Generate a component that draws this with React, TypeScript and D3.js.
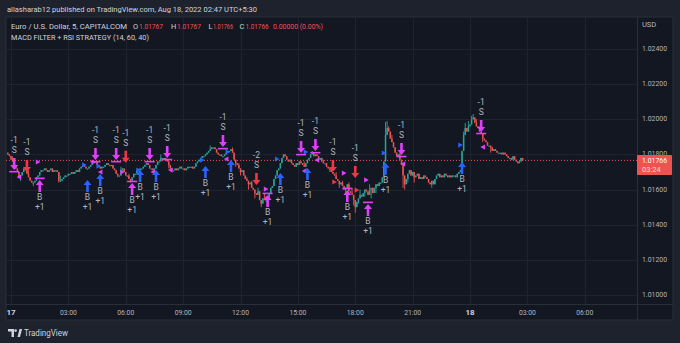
import React from "react";
import * as d3 from "d3";

const W = 680;
const H = 343;

// ---- data ----
const FIRST_OPEN = 1.0181;
const closes = [
  1.0180, 1.0179, 1.0177, 1.0176, 1.0174,
  1.0172, 1.0170, 1.0167, 1.0168, 1.0170,
  1.0172, 1.0171, 1.0169, 1.0167, 1.0165,
  1.0164, 1.0164, 1.0165, 1.0167, 1.0168,
  1.0170, 1.0171, 1.0171, 1.0172, 1.0171,
  1.0170, 1.0171, 1.0172, 1.0170, 1.0171,
  1.0171, 1.0170, 1.0165, 1.0165, 1.0166,
  1.0167, 1.0168, 1.0168, 1.0169, 1.0169,
  1.0170, 1.0169, 1.0170, 1.0171, 1.0170,
  1.0172, 1.0173, 1.0174, 1.0173, 1.0172,
  1.0172, 1.0173, 1.0174, 1.0175, 1.0176,
  1.0176, 1.0174, 1.0173, 1.0172, 1.0173,
  1.0173, 1.0174, 1.0175, 1.0174, 1.0174,
  1.0174, 1.0172, 1.0171, 1.0169, 1.0168,
  1.0168, 1.0171, 1.0172, 1.0170, 1.0168,
  1.0168, 1.0166, 1.0165, 1.0167, 1.0169,
  1.0169, 1.0171, 1.0171, 1.0172, 1.0172,
  1.0173, 1.0174, 1.0175, 1.0174, 1.0172,
  1.0172, 1.0171, 1.0172, 1.0174, 1.0176,
  1.0176, 1.0178, 1.0178, 1.0178, 1.0177,
  1.0176, 1.0174, 1.0172, 1.0171, 1.0171,
  1.0172, 1.0171, 1.0172, 1.0173, 1.0172,
  1.0172, 1.0171, 1.0172, 1.0173, 1.0173,
  1.0173, 1.0172, 1.0173, 1.0175, 1.0176,
  1.0177, 1.0178, 1.0179, 1.0179, 1.0180,
  1.0181, 1.0182, 1.0183, 1.0184, 1.0184,
  1.0183, 1.0181, 1.0180, 1.0180, 1.0179,
  1.0179, 1.0180, 1.0181, 1.0182, 1.0182,
  1.0183, 1.0181, 1.0177, 1.0175, 1.0174,
  1.0172, 1.0170, 1.0171, 1.0168, 1.0166,
  1.0165, 1.0163, 1.0164, 1.0161, 1.0160,
  1.0158, 1.0157, 1.0159, 1.0154, 1.0152,
  1.0155, 1.0154, 1.0156, 1.0155, 1.0158,
  1.0161, 1.0162, 1.0166, 1.0168, 1.0171,
  1.0172, 1.0175, 1.0178, 1.0180, 1.0179,
  1.0177, 1.0176, 1.0177, 1.0175, 1.0174,
  1.0173, 1.0175, 1.0174, 1.0176, 1.0175,
  1.0174, 1.0173, 1.0175, 1.0177, 1.0178,
  1.0180, 1.0181, 1.0179, 1.0180, 1.0179,
  1.0177, 1.0178, 1.0176, 1.0175, 1.0175,
  1.0173, 1.0172, 1.0172, 1.0170, 1.0169,
  1.0168, 1.0166, 1.0165, 1.0163, 1.0164,
  1.0162, 1.0160, 1.0161, 1.0163, 1.0159,
  1.0158, 1.0157, 1.0154, 1.0150, 1.0153,
  1.0155, 1.0157, 1.0156, 1.0158, 1.0160,
  1.0159, 1.0157, 1.0160, 1.0161, 1.0158,
  1.0161, 1.0163, 1.0162, 1.0164, 1.0164,
  1.0167, 1.0176, 1.0191, 1.0195, 1.0193,
  1.0189, 1.0187, 1.0184, 1.0181, 1.0179,
  1.0180, 1.0177, 1.0174, 1.0168, 1.0163,
  1.0166, 1.0169, 1.0171, 1.0168, 1.0170,
  1.0167, 1.0168, 1.0169, 1.0166, 1.0167,
  1.0166, 1.0168, 1.0167, 1.0166, 1.0164,
  1.0163, 1.0165, 1.0163, 1.0166, 1.0168,
  1.0169, 1.0167, 1.0168, 1.0167, 1.0169,
  1.0168, 1.0167, 1.0168, 1.0167, 1.0168,
  1.0168, 1.0167, 1.0169, 1.0170, 1.0171,
  1.0182, 1.0191, 1.0195, 1.0193, 1.0196,
  1.0197, 1.0200, 1.0201, 1.0198, 1.0196,
  1.0195, 1.0193, 1.0192, 1.0189, 1.0188,
  1.0187, 1.0185, 1.0185, 1.0184, 1.0182,
  1.0183, 1.0182, 1.0181, 1.0181, 1.0181,
  1.0180, 1.0181, 1.0180, 1.0179, 1.0178,
  1.0178, 1.0177, 1.0179, 1.0177, 1.0176,
  1.0175, 1.0176, 1.0178, 1.01766,
];
const wickHighs: [number, number][] = [
  [237, 1.01985], [238, 1.0199], [291, 1.0202], [292, 1.0203], [286, 1.0193],
  [145, 1.0175], [150, 1.0167], [153, 1.0165], [157, 1.0161], [161, 1.0158],
  [206, 1.0170], [210, 1.0165], [214, 1.0164], [216, 1.0161], [221, 1.0160], [227, 1.0163],
  [239, 1.0196], [241, 1.0191], [246, 1.0181], [287, 1.0198], [289, 1.0199], [294, 1.0200], [296, 1.0196],
  [3, 1.0179], [13, 1.0171], [33, 1.0168], [71, 1.0173], [76, 1.0169], [96, 1.0180], [127, 1.0185],
  [141, 1.0184], [172, 1.0177], [186, 1.0176], [191, 1.0182], [198, 1.0177],
];
const wickLows: [number, number][] = [
  [159, 1.0150], [218, 1.01467], [248, 1.0161], [32, 1.0164],
  [146, 1.0168], [151, 1.0160], [155, 1.0155], [160, 1.0152], [162, 1.0153],
  [208, 1.0161], [212, 1.0157], [217, 1.0151], [220, 1.0152], [224, 1.0156], [228, 1.0155], [231, 1.0158],
  [249, 1.0160], [251, 1.0164], [255, 1.0164], [266, 1.0161],
  [8, 1.0165], [16, 1.0162], [69, 1.0167], [77, 1.0164], [101, 1.0172], [143, 1.0173], [202, 1.0170],
  [298, 1.0187], [303, 1.0181],
];

// [candle index, price at arrow tip, kind, quantity]
const sellSignals: [number, number, string, string][] = [
  [4, 1.01711, "exit", "-1"],
  [12, 1.017, "entry", "-1"],
  [55, 1.01768, "exit", "-1"],
  [68, 1.01768, "exit", "-1"],
  [74, 1.01752, "entry", "-1"],
  [89, 1.01768, "exit", "-1"],
  [100, 1.0178, "exit", "-1"],
  [135, 1.01842, "exit", "-1"],
  [156, 1.01626, "entry", "-2"],
  [184, 1.01808, "exit", "-1"],
  [193, 1.01819, "exit", "-1"],
  [204, 1.017, "entry", "-1"],
  [218, 1.01666, "entry", "-1"],
  [247, 1.01797, "exit", "-1"],
  [297, 1.01928, "exit", "-1"],
];
const buySignals: [number, number, string, string][] = [
  [20, 1.01655, "exit", "+1"],
  [50, 1.01655, "entry", "+1"],
  [58, 1.01689, "entry", "+1"],
  [78, 1.01637, "exit", "+1"],
  [83, 1.01711, "entry", "+1"],
  [93, 1.01711, "entry", "+1"],
  [124, 1.01734, "entry", "+1"],
  [140, 1.01768, "entry", "+1"],
  [163, 1.01569, "exit", "+1"],
  [171, 1.01694, "entry", "+1"],
  [188, 1.01723, "entry", "+1"],
  [213, 1.01597, "exit", "+1"],
  [226, 1.01518, "exit", "+1"],
  [237, 1.01752, "entry", "+1"],
  [285, 1.01757, "entry", "+1"],
];
// [candle index, price, kind]
const markers: [number, number, string][] = [
  [48, 1.0174, "long"], [57, 1.01734, "long"], [82, 1.01711, "long"], [122, 1.01768, "long"],
  [138, 1.01814, "long"], [169, 1.01774, "long"], [187, 1.01814, "long"], [236, 1.01808, "long"],
  [284, 1.01853, "long"],
  [7, 1.01671, "close"], [58, 1.017, "close"], [91, 1.017, "close"], [102, 1.01711, "close"],
  [137, 1.01774, "close"], [186, 1.01706, "close"], [194, 1.01768, "close"], [248, 1.01746, "close"],
  [298, 1.01842, "close"],
  [19, 1.01757, "cover"], [54, 1.01757, "cover"], [72, 1.017, "cover"], [162, 1.01603, "cover"],
  [211, 1.01694, "cover"], [225, 1.01655, "cover"],
  [205, 1.01643, "short"], [219, 1.01597, "short"],
];

const priceTicks = [1.010, 1.012, 1.014, 1.016, 1.018, 1.020, 1.022, 1.024];
const timeTickHours = [0, 3, 6, 9, 12, 15, 18, 21, 24, 27, 30];
const timeTickLabels = ["17", "03:00", "06:00", "09:00", "12:00", "15:00", "18:00", "21:00", "18", "03:00", "06:00"];
const ohlcKeys = ["O", "H", "L", "C"];
const ohlcValues = ["1.01767", "1.01767", "1.01766", "1.01766"];
const changeText = "0.00000 (0.00%)";
const lastPrice = 1.01766;
const countdown = "03:24";

const FONT = "Roboto, 'Liberation Sans', Arial, sans-serif";
const UP = "#26a69a";
const DOWN = "#ef5350";
const BLUE = "#2962ff";
const RED = "#f23645";
const MAGENTA = "#e040fb";
const TXT = "#b2b5be";

const PL = 6, PT = 17, PR = 673, PB = 320, AX = 637, TB = 304;
// legend pieces: [key x, value x, value width, font size]
const ohlcLayout: [number, number, number, number][] = [
  [133, 139, 24, 7.4], [171, 177, 24, 7.4], [208.5, 213, 20, 6.8], [239.5, 245.5, 23, 7.2],
];

export default function App() {
  const t0 = Date.UTC(2022, 7, 17, 0, 0);
  const x = d3.scaleUtc().domain([new Date(t0), new Date(t0 + 24 * 3600e3)]).range([11, 470]);
  const y = d3.scaleLinear().domain([1.010, 1.024]).range([295, 49]);
  const candleTime = (i: number) => new Date(t0 + (i * 5 - 10) * 60e3);
  const cx = (i: number) => x(candleTime(i));

  const highMap = new Map(wickHighs);
  const lowMap = new Map(wickLows);
  const candles = closes.map((c, i) => {
    const o = i === 0 ? FIRST_OPEN : closes[i - 1];
    const h = Math.max(o, c, highMap.get(i) ?? -Infinity);
    const l = Math.min(o, c, lowMap.get(i) ?? Infinity);
    return { i, o, c, h, l };
  });
  const bw = 1.5;

  const arrowUp = (xx: number, ty: number) =>
    `M${xx},${ty} L${xx - 4},${ty + 5} L${xx - 1.3},${ty + 5} L${xx - 1.3},${ty + 12} L${xx + 1.3},${ty + 12} L${xx + 1.3},${ty + 5} L${xx + 4},${ty + 5} Z`;
  const arrowDown = (xx: number, ty: number) =>
    `M${xx},${ty} L${xx - 4},${ty - 5} L${xx - 1.3},${ty - 5} L${xx - 1.3},${ty - 12} L${xx + 1.3},${ty - 12} L${xx + 1.3},${ty - 5} L${xx + 4},${ty - 5} Z`;

  const markerPath = (kind: string, xx: number, yy: number) => {
    if (kind === "close") return `M${xx + 2.2},${yy - 2.6} L${xx - 2.4},${yy} L${xx + 2.2},${yy + 2.6} Z`;
    return `M${xx - 2.2},${yy - 2.6} L${xx + 2.4},${yy} L${xx - 2.2},${yy + 2.6} Z`;
  };
  const markerColor: Record<string, string> = { long: BLUE, close: MAGENTA, cover: MAGENTA, short: RED };

  const yLast = y(lastPrice);

  return (
    <svg width={W} height={H} style={{ position: "absolute", left: 0, top: 0, background: "#1e222d" }}
      fontFamily={FONT}>
      <rect x={0} y={0} width={W} height={H} fill="#1e222d" />
      <text x={7} y={12} fontSize={8} fill="#d1d4dc" textLength={250} lengthAdjust="spacingAndGlyphs">
        allasharab12 published on TradingView.com, Aug 18, 2022 02:47 UTC+5:30
      </text>
      <rect x={PL} y={PT} width={PR - PL} height={PB - PT} fill="#131722" stroke="#2a2e39" strokeWidth={1} />
      <defs>
        <clipPath id="plot">
          <rect x={PL} y={PT} width={AX - PL} height={TB - PT} />
        </clipPath>
        <clipPath id="abovebox">
          <rect x={AX} y={PT} width={PR - AX} height={y(lastPrice) - 5.5 - PT} />
          <rect x={AX} y={y(lastPrice) + 14.5} width={PR - AX} height={PB - y(lastPrice) - 14.5} />
        </clipPath>
      </defs>
      {/* grid */}
      <g stroke="#1f2331" strokeWidth={1}>
        {priceTicks.map((p) => (
          <line key={p} x1={PL} x2={AX} y1={Math.round(y(p)) + 0.5} y2={Math.round(y(p)) + 0.5} />
        ))}
        {timeTickHours.map((h) => {
          const xx = Math.round(x(new Date(t0 + h * 3600e3))) + 0.5;
          return <line key={h} x1={xx} x2={xx} y1={PT} y2={TB} />;
        })}
      </g>
      {/* axes separators */}
      <line x1={AX + 0.5} x2={AX + 0.5} y1={PT} y2={PB} stroke="#2a2e39" />
      <line x1={PL} x2={PR} y1={TB + 0.5} y2={TB + 0.5} stroke="#2a2e39" />

      {/* legend */}
      <text x={11} y={29} fontSize={7.4} fill="#d1d4dc" textLength={116} lengthAdjust="spacingAndGlyphs">
        Euro / U.S. Dollar, 5, CAPITALCOM
      </text>
      {ohlcKeys.map((k, n) => (
        <g key={k}>
          <text x={ohlcLayout[n][0]} y={29} fontSize={7.4} fill="#d1d4dc">{k}</text>
          <text x={ohlcLayout[n][1]} y={29} fontSize={ohlcLayout[n][3]} fill={DOWN} textLength={ohlcLayout[n][2]} lengthAdjust="spacingAndGlyphs">{ohlcValues[n]}</text>
        </g>
      ))}
      <text x={273} y={29} fontSize={7.4} fill={DOWN} textLength={50} lengthAdjust="spacingAndGlyphs">{changeText}</text>
      <text x={11} y={39.5} fontSize={7.4} fill="#d1d4dc" textLength={138} lengthAdjust="spacingAndGlyphs">
        MACD FILTER + RSI STRATEGY (14, 60, 40)
      </text>

      <g clipPath="url(#plot)">
        {/* current price line */}
        <line x1={PL} x2={AX} y1={yLast} y2={yLast} stroke={DOWN} strokeWidth={1} strokeDasharray="1 2" />
        {/* candles */}
        {candles.map((d) => {
          const col = d.c >= d.o ? UP : DOWN;
          const xx = cx(d.i);
          const top = y(Math.max(d.o, d.c));
          const bot = y(Math.min(d.o, d.c));
          return (
            <g key={d.i}>
              <line x1={xx} x2={xx} y1={y(d.h)} y2={y(d.l)} stroke={col} strokeWidth={0.9} />
              <rect x={xx - bw / 2} y={top} width={bw} height={Math.max(1.2, bot - top)} fill={col} />
            </g>
          );
        })}
        {/* markers */}
        {markers.map(([i, p, k], n) => (
          <path key={"m" + n} d={markerPath(k, cx(i), y(p))} fill={markerColor[k]} />
        ))}
        {/* sell signals */}
        {sellSignals.map(([i, p, k, q], n) => {
          const xx = cx(i);
          const ty = y(p);
          const col = k === "exit" ? MAGENTA : RED;
          return (
            <g key={"s" + n}>
              <path d={arrowDown(xx, ty)} fill={col} />
              {k === "exit" && <rect x={xx - 5} y={ty + 0.8} width={10} height={1.6} fill={col} />}
              <text x={xx} y={ty - 19} fontSize={8.5} fill={TXT} textAnchor="middle" dominantBaseline="middle">S</text>
              <text x={xx} y={ty - 29} fontSize={8.5} fill={TXT} textAnchor="middle" dominantBaseline="middle">{q}</text>
            </g>
          );
        })}
        {/* buy signals */}
        {buySignals.map(([i, p, k, q], n) => {
          const xx = cx(i);
          const ty = y(p);
          const col = k === "exit" ? MAGENTA : BLUE;
          return (
            <g key={"b" + n}>
              <path d={arrowUp(xx, ty)} fill={col} />
              {k === "exit" && <rect x={xx - 5} y={ty - 2.4} width={10} height={1.6} fill={col} />}
              <text x={xx} y={ty + 18} fontSize={8.5} fill={TXT} textAnchor="middle" dominantBaseline="middle">B</text>
              <text x={xx} y={ty + 28} fontSize={8.5} fill={TXT} textAnchor="middle" dominantBaseline="middle">{q}</text>
            </g>
          );
        })}
      </g>

      {/* price axis */}
      <text x={642} y={25} fontSize={7.5} fill={TXT} dominantBaseline="middle">USD</text>
      <g clipPath="url(#abovebox)">
        {priceTicks.map((p) => (
          <text key={p} x={642} y={y(p)} fontSize={7.5} fill={TXT} dominantBaseline="middle" textLength={25} lengthAdjust="spacingAndGlyphs">
            {d3.format(".5f")(p)}
          </text>
        ))}
      </g>
      <rect x={AX} y={yLast - 5.5} width={35} height={20} fill={DOWN} rx={1} />
      <text x={642} y={yLast + 0.5} fontSize={7.5} fill="#ffffff" dominantBaseline="middle" textLength={25} lengthAdjust="spacingAndGlyphs">
        {d3.format(".5f")(lastPrice)}
      </text>
      <text x={642} y={yLast + 9.5} fontSize={7.5} fill="#ffd6d6" dominantBaseline="middle">{countdown}</text>

      {/* time axis */}
      {timeTickHours.map((h, k) => {
        const lab = timeTickLabels[k];
        const bold = lab.length === 2;
        return (
          <text key={h} x={x(new Date(t0 + h * 3600e3))} y={313} fontSize={bold ? 8 : 7.5}
            fill={bold ? "#d1d4dc" : TXT} fontWeight={bold ? 700 : 400}
            textAnchor="middle" dominantBaseline="middle"
            {...(bold ? {} : { textLength: 17, lengthAdjust: "spacingAndGlyphs" })}>
            {lab}
          </text>
        );
      })}

      {/* footer logo */}
      <g fill="#d1d4dc">
        <path d="M8,329 h6 v8 h-2.5 v-5.5 h-3.5 z" />
        <circle cx={15.6} cy={330.6} r={1.3} />
        <path d="M17.5,337 L19.5,329 h2.6 l-2.1,8 z" />
      </g>
      <text x={24} y={333.5} fontSize={9} fill="#d1d4dc" dominantBaseline="middle" textLength={44} lengthAdjust="spacingAndGlyphs">TradingView</text>
    </svg>
  );
}
